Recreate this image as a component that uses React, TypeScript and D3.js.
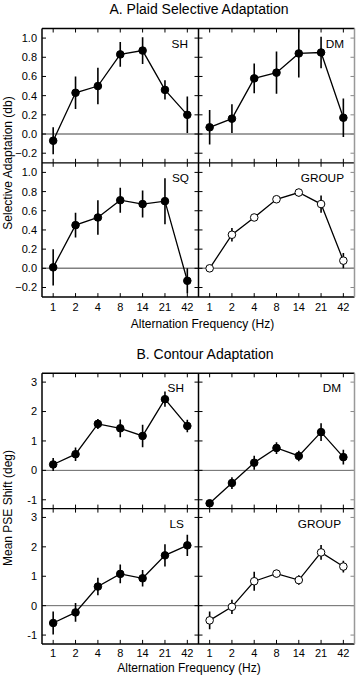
import React from "react";
import * as d3 from "d3";

const freqs = ["1", "2", "4", "8", "14", "21", "42"];

// Panel A: Plaid Selective Adaptation
const aSH = [-0.07, 0.43, 0.5, 0.83, 0.87, 0.46, 0.2];
const aSHerr = [0.14, 0.17, 0.19, 0.13, 0.14, 0.1, 0.19];
const aDM = [0.07, 0.16, 0.58, 0.64, 0.84, 0.85, 0.17];
const aDMerr = [0.18, 0.15, 0.155, 0.22, 0.25, 0.165, 0.2];
const aSQ = [0.01, 0.45, 0.53, 0.71, 0.67, 0.7, -0.13];
const aSQerr = [0.19, 0.13, 0.18, 0.13, 0.14, 0.24, 0.13];
const aGR = [0.0, 0.35, 0.53, 0.72, 0.79, 0.67, 0.08];
const aGRerr = [0.0, 0.07, 0.02, 0.02, 0.04, 0.09, 0.08];

// Panel B: Contour Adaptation
const bSH = [0.2, 0.55, 1.58, 1.43, 1.17, 2.42, 1.51];
const bSHerr = [0.22, 0.23, 0.17, 0.3, 0.38, 0.26, 0.21];
const bDM = [-1.12, -0.43, 0.26, 0.76, 0.49, 1.3, 0.45];
const bDMerr = [0.1, 0.2, 0.24, 0.2, 0.18, 0.3, 0.25];
const bLS = [-0.59, -0.23, 0.65, 1.08, 0.93, 1.71, 2.05];
const bLSerr = [0.39, 0.32, 0.3, 0.32, 0.28, 0.38, 0.36];
const bGR = [-0.5, -0.04, 0.83, 1.09, 0.87, 1.81, 1.33];
const bGRerr = [0.3, 0.24, 0.32, 0.13, 0.16, 0.25, 0.2];

const aTicks = [-0.2, 0, 0.2, 0.4, 0.6, 0.8, 1.0];
const bTicks = [-1, 0, 1, 2, 3];

const FONT = "'Liberation Sans', Arial, Helvetica, sans-serif";

const X0 = 42;
const XM = 198.5;
const X1 = 354.5;
const TICK = 4;

type PanelProps = {
  x0: number;
  x1: number;
  y0: number;
  y1: number;
  y: d3.ScaleLinear<number, number>;
  vals: number[];
  errs: number[];
  open?: boolean;
  label: string;
  labelX: number;
  id: string;
  zeroColor: string;
  zeroWidth: number;
};

function Panel({ x0, x1, y0, y1, y, vals, errs, open, label, labelX, id, zeroColor, zeroWidth }: PanelProps) {
  const x = d3.scalePoint<string>().domain(freqs).range([x0, x1]).padding(0.5);
  const line = d3
    .line<number>()
    .x((_, i) => x(freqs[i]) as number)
    .y((d) => y(d));
  return (
    <g>
      <defs>
        <clipPath id={id}>
          <rect x={x0} y={y0} width={x1 - x0} height={y1 - y0} />
        </clipPath>
      </defs>
      <line x1={x0} x2={x1} y1={y(0)} y2={y(0)} stroke={zeroColor} strokeWidth={zeroWidth} />
      <g clipPath={`url(#${id})`}>
        {vals.map((v, i) => (
          <line
            key={"e" + i}
            x1={x(freqs[i])}
            x2={x(freqs[i])}
            y1={y(v - errs[i])}
            y2={y(v + errs[i])}
            stroke="#000"
            strokeWidth={1.6}
          />
        ))}
        <path d={line(vals) || ""} fill="none" stroke="#000" strokeWidth={1.3} />
        {vals.map((v, i) => (
          <circle
            key={"c" + i}
            cx={x(freqs[i])}
            cy={y(v)}
            r={3.8}
            fill={open ? "#fff" : "#000"}
            stroke="#000"
            strokeWidth={1}
          />
        ))}
      </g>
      {freqs.map((f) => (
        <g key={"xt" + f}>
          <line x1={x(f)} x2={x(f)} y1={y0} y2={y0 + TICK} stroke="#000" strokeWidth={1} />
          <line x1={x(f)} x2={x(f)} y1={y1} y2={y1 - TICK} stroke="#000" strokeWidth={1} />
        </g>
      ))}
      <text x={labelX} y={y0 + 19} textAnchor="end" fontFamily={FONT} fontSize={11.8} fill="#000">
        {label}
      </text>
    </g>
  );
}

function YTicks({ x0, x1, y, ticks, fmt, showLabels, gray }: { x0: number; x1: number; y: d3.ScaleLinear<number, number>; ticks: number[]; fmt: (n: number) => string; showLabels: boolean; gray?: boolean }) {
  return (
    <g>
      {ticks.map((t) => (
        <g key={t}>
          <line x1={x0} x2={x0 + TICK} y1={y(t)} y2={y(t)} stroke="#000" strokeWidth={1} />
          <line x1={x1} x2={x1 - TICK} y1={y(t)} y2={y(t)} stroke={gray ? "#888" : "#000"} strokeWidth={1} />
          {showLabels && (
            <text x={x0 - 5} y={y(t)} dy="0.36em" textAnchor="end" fontFamily={FONT} fontSize={11} fill="#000">
              {fmt(t)}
            </text>
          )}
        </g>
      ))}
    </g>
  );
}

function Block({
  top,
  rowH,
  domain,
  ticks,
  fmt,
  panels,
  title,
  titleY,
  titleX,
  ylabel,
  ylabelY,
  xtitleX,
  xtitleOff,
  zeroColor,
  zeroWidth,
  prefix,
}: {
  top: number;
  rowH: number;
  domain: [number, number];
  ticks: number[];
  fmt: (n: number) => string;
  panels: { vals: number[]; errs: number[]; label: string; open?: boolean; labelX: number }[];
  title: string;
  titleY: number;
  titleX: number;
  ylabel: string;
  ylabelY: number;
  xtitleX: number;
  xtitleOff: number;
  zeroColor: string;
  zeroWidth: number;
  prefix: string;
}) {
  const rows = [top, top + rowH];
  const bottom = top + 2 * rowH;
  const xs = d3.scalePoint<string>().domain(freqs).range([X0, XM]).padding(0.5);
  const xs2 = d3.scalePoint<string>().domain(freqs).range([XM, X1]).padding(0.5);
  return (
    <g>
      <text x={titleX} y={titleY} textAnchor="middle" fontFamily={FONT} fontSize={14} fill="#000">
        {title}
      </text>
      {rows.map((r0, ri) => {
        const y = d3.scaleLinear().domain(domain).range([r0 + rowH, r0]);
        return (
          <g key={ri}>
            {[0, 1].map((ci) => {
              const p = panels[ri * 2 + ci];
              return (
                <Panel
                  key={ci}
                  id={`${prefix}${ri}${ci}`}
                  x0={ci === 0 ? X0 : XM}
                  x1={ci === 0 ? XM : X1}
                  y0={r0}
                  y1={r0 + rowH}
                  y={y}
                  vals={p.vals}
                  errs={p.errs}
                  open={p.open}
                  label={p.label}
                  labelX={p.labelX}
                  zeroColor={zeroColor}
                  zeroWidth={zeroWidth}
                />
              );
            })}
            <YTicks x0={X0} x1={XM} y={y} ticks={ticks} fmt={fmt} showLabels={true} />
            <YTicks x0={XM} x1={X1} y={y} ticks={ticks} fmt={fmt} showLabels={false} gray />
          </g>
        );
      })}
      <line x1={X0} x2={X1} y1={top} y2={top} stroke="#000" strokeWidth={1.5} />
      <line x1={X0} x2={X1} y1={bottom} y2={bottom} stroke="#000" strokeWidth={1.5} />
      <line x1={X0} x2={X1} y1={top + rowH} y2={top + rowH} stroke="#000" strokeWidth={1.2} />
      <line x1={X0} x2={X0} y1={top} y2={bottom} stroke="#000" strokeWidth={1.5} />
      <line x1={XM} x2={XM} y1={top} y2={bottom} stroke="#000" strokeWidth={1.5} />
      <line x1={X1} x2={X1} y1={top} y2={bottom} stroke="#999" strokeWidth={1.5} />
      {freqs.map((f) => (
        <g key={"xl" + f}>
          <text x={xs(f)} y={bottom + 13.5} textAnchor="middle" fontFamily={FONT} fontSize={11} fill="#000">
            {f}
          </text>
          <text x={xs2(f)} y={bottom + 13.5} textAnchor="middle" fontFamily={FONT} fontSize={11} fill="#000">
            {f}
          </text>
        </g>
      ))}
      <text x={xtitleX} y={bottom + xtitleOff} textAnchor="middle" fontFamily={FONT} fontSize={12} fill="#000">
        Alternation Frequency (Hz)
      </text>
      <text
        transform={`translate(12,${ylabelY}) rotate(-90)`}
        textAnchor="middle"
        fontFamily={FONT}
        fontSize={12}
        fill="#000"
      >
        {ylabel}
      </text>
    </g>
  );
}

export default function App() {
  const f1 = d3.format(".1f");
  const f0 = (n: number) => String(n);
  return (
    <svg width={356} height={677} style={{ position: "absolute", left: 0, top: 0, background: "#fff" }}>
      <rect width={356} height={677} fill="#fff" />
      <Block
        prefix="a"
        top={28.5}
        rowH={134.3}
        domain={[-0.3, 1.1]}
        ticks={aTicks}
        fmt={f1}
        title="A. Plaid Selective Adaptation"
        titleY={14}
        titleX={199}
        ylabel="Selective Adaptation (db)"
        ylabelY={163}
        xtitleX={202.5}
        xtitleOff={30.5}
        zeroColor="#808080"
        zeroWidth={1.6}
        panels={[
          { vals: aSH, errs: aSHerr, label: "SH", labelX: 188 },
          { vals: aDM, errs: aDMerr, label: "DM", labelX: 344 },
          { vals: aSQ, errs: aSQerr, label: "SQ", labelX: 189 },
          { vals: aGR, errs: aGRerr, label: "GROUP", labelX: 344, open: true },
        ]}
      />
      <Block
        prefix="b"
        top={373.3}
        rowH={135.3}
        domain={[-1.3, 3.3]}
        ticks={bTicks}
        fmt={f0}
        title="B. Contour Adaptation"
        titleY={358.5}
        titleX={205}
        ylabel="Mean PSE Shift (deg)"
        ylabelY={508}
        xtitleX={189}
        xtitleOff={28}
        zeroColor="#666"
        zeroWidth={1}
        panels={[
          { vals: bSH, errs: bSHerr, label: "SH", labelX: 184 },
          { vals: bDM, errs: bDMerr, label: "DM", labelX: 341 },
          { vals: bLS, errs: bLSerr, label: "LS", labelX: 184 },
          { vals: bGR, errs: bGRerr, label: "GROUP", labelX: 341, open: true },
        ]}
      />
    </svg>
  );
}
